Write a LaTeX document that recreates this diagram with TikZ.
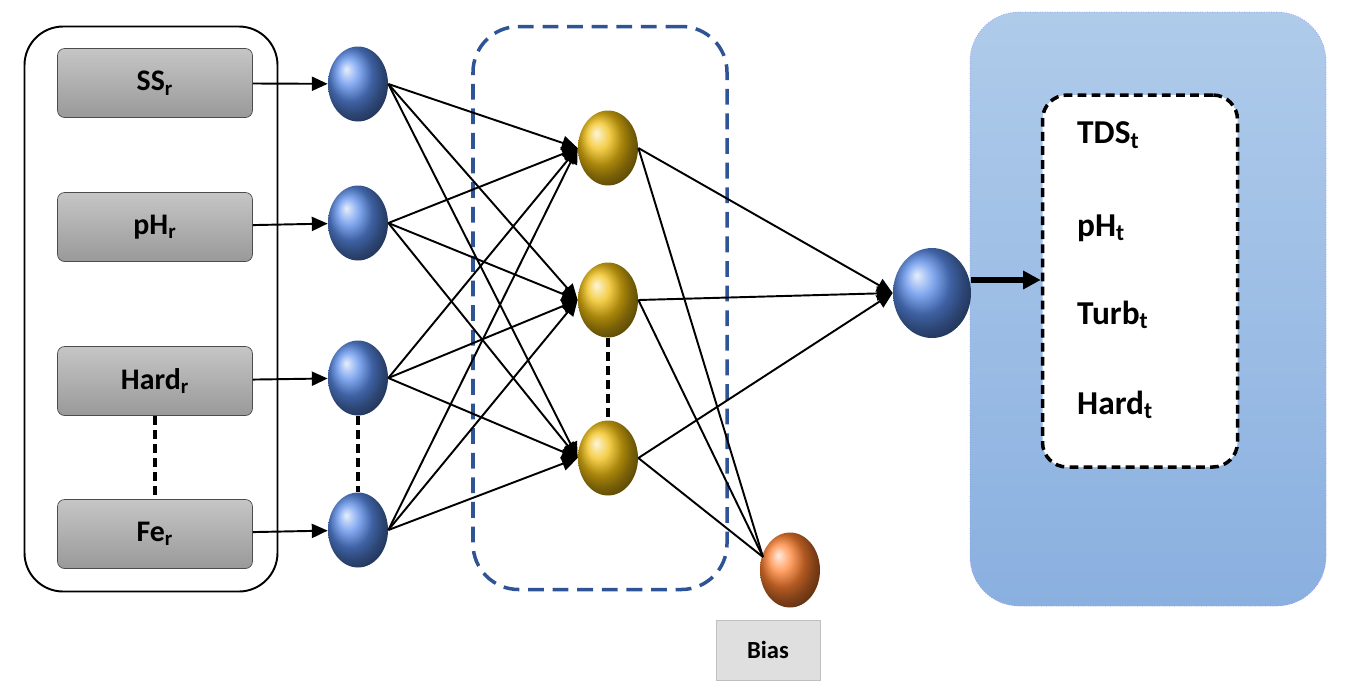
\documentclass[tikz,border=0pt]{standalone}
\usepackage{fontspec}
\setmainfont{Carlito}
\usetikzlibrary{shapes.geometric,arrows.meta}
\definecolor{nblue}{HTML}{5A8CEA}
\definecolor{ngold}{HTML}{F0BE10}
\definecolor{norange}{HTML}{FF8030}
\definecolor{pantop}{HTML}{AFCBEA}
\definecolor{panbot}{HTML}{8AB0E0}
\definecolor{hdash}{HTML}{2F5496}
\begin{document}
\begin{tikzpicture}[x=0.02cm,y=-0.02cm,
  font=\fontsize{17}{19}\selectfont\bfseries,
  box/.style={draw=black!70,rounded corners=4pt,top color=gray!45,bottom color=gray!80,minimum width=3.9cm,minimum height=1.38cm,inner sep=0},
  neuron/.style={ellipse,minimum width=1.2cm,minimum height=1.5cm,inner sep=0},
  inn/.style={neuron,ball color=nblue},
  hid/.style={neuron,ball color=ngold},
  arr/.style={-{Triangle[length=9pt,width=8pt]},line width=1.1pt},
  ln/.style={line width=1.1pt},
  dsh/.style={line width=2pt,dash pattern=on 5pt off 3pt}]
\useasboundingbox (0,0) rectangle (1346,681);
% right panel
\node[draw=blue!40,densely dotted,rounded corners=28pt,top color=pantop,bottom color=panbot,minimum width=356*0.02cm,minimum height=594*0.02cm,inner sep=0] (panel) at (1148,309) {};
\node[draw=black,line width=2pt,dash pattern=on 5pt off 3pt,fill=white,rounded corners=14pt,minimum width=195*0.02cm,minimum height=372*0.02cm,inner sep=0] (outbox) at (1140,281) {};
\node[anchor=west,font=\fontsize{19}{21}\selectfont\bfseries] (t1) at (1071,135) {TDS$_\mathbf{t}$};
\node[anchor=west,font=\fontsize{19}{21}\selectfont\bfseries] (t2) at (1071,228) {pH$_\mathbf{t}$};
\node[anchor=west,font=\fontsize{19}{21}\selectfont\bfseries] (t3) at (1071,315) {Turb$_\mathbf{t}$};
\node[anchor=west,font=\fontsize{19}{21}\selectfont\bfseries] (t4) at (1071,405) {Hard$_\mathbf{t}$};
% left frame
\node[draw=black,line width=1.1pt,rounded corners=22pt,minimum width=253*0.02cm,minimum height=565*0.02cm,inner sep=0] (frame) at (151,309) {};
\node[draw=hdash,line width=2pt,dash pattern=on 9pt off 5pt,rounded corners=26pt,minimum width=254*0.02cm,minimum height=563*0.02cm,inner sep=0] (hframe) at (600,308) {};
% input boxes
\node[box] (b1) at (155,83) {SS$_\mathbf{r}$};
\node[box] (b2) at (155,227) {pH$_\mathbf{r}$};
\node[box] (b3) at (155,381) {Hard$_\mathbf{r}$};
\node[box] (b4) at (155,534) {Fe$_\mathbf{r}$};
\draw[dsh] (b3) -- (b4);
% input neurons
\node[inn] (i1) at (358,84) {};
\node[inn] (i2) at (358,223) {};
\node[inn] (i3) at (358,378) {};
\node[inn] (i4) at (358,530) {};
\draw[dsh] (i3) -- (i4);
\foreach \k in {1,...,4} \draw[arr] (b\k) -- (i\k);
% hidden
\node[hid] (h1) at (608,148) {};
\node[hid] (h2) at (608,300) {};
\node[hid] (h3) at (608,458) {};
\draw[dsh] (h2) -- (h3);
\foreach \i in {1,...,4} \foreach \h in {1,2,3} \draw[arr] (i\i.east) -- (h\h.west);
% output
\node[neuron,minimum width=1.56cm,minimum height=1.8cm,ball color=nblue] (o) at (932,293) {};
\foreach \h in {1,2,3} \draw[arr] (h\h.east) -- (o.west);
\draw[-{Triangle[length=10pt,width=10pt]},line width=3pt] (o.east |- 0,280) -- (outbox.west |- 0,280);
% bias
\node[neuron,ball color=norange] (bias) at (790,570) {};
\coordinate (bin) at (763,557);
\foreach \h in {1,2,3} \draw[ln] (h\h.east) -- (bin);
\node[fill=gray!25,draw=gray!50,minimum width=2.08cm,minimum height=1.2cm,inner sep=0,font=\fontsize{14}{16}\selectfont\bfseries] (bl) at (768,650) {Bias};
\end{tikzpicture}
\end{document}
